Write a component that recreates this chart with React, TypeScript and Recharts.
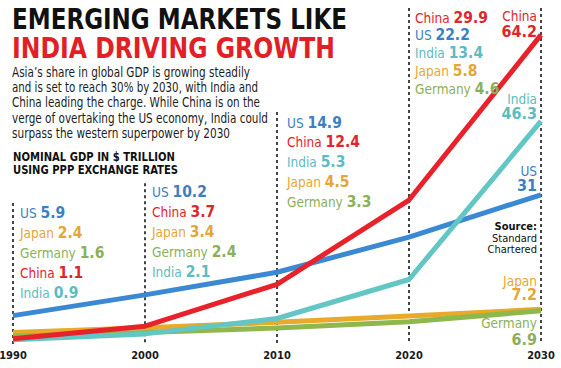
import React from 'react';
import { LineChart, Line, XAxis, YAxis, ReferenceLine } from 'recharts';

// ---------- data ----------
const years = [1990, 2000, 2010, 2020, 2030];
const us = [5.9, 10.2, 14.9, 22.2, 31];
const china = [1.1, 3.7, 12.4, 29.9, 64.2];
const india = [0.9, 2.1, 5.3, 13.4, 46.3];
const japan = [2.4, 3.4, 4.5, 5.8, 7.2];
const germany = [1.6, 2.4, 3.3, 4.6, 6.9];

const titleLines = ['EMERGING MARKETS LIKE', 'INDIA DRIVING GROWTH'];
const introLines = [
  "Asia\u2019s share in global GDP is growing steadily",
  'and is set to reach 30% by 2030, with India and',
  'China leading the charge. While China is on the',
  'verge of overtaking the US economy, India could',
  'surpass the western superpower by 2030',
];
const subtitleLines = ['NOMINAL GDP IN $ TRILLION', 'USING PPP EXCHANGE RATES'];
const sourceLines = ['Source:', 'Standard', 'Chartered'];

// ---------- styling ----------
const FONT = "'Liberation Sans Narrow', 'DejaVu Sans Condensed', 'Roboto Condensed', sans-serif";

const series = [
  { key: 'japan', name: 'Japan', values: japan, line: '#e9aa2b', label: '#e4a636' },
  { key: 'germany', name: 'Germany', values: germany, line: '#8fb84c', label: '#8cb05a' },
  { key: 'us', name: 'US', values: us, line: '#3b88d3', label: '#3c7fc2' },
  { key: 'india', name: 'India', values: india, line: '#62c6c4', label: '#5dbcc0' },
  { key: 'china', name: 'China', values: china, line: '#e8222a', label: '#df252d' },
];

const rows = years.map((year, i) => {
  const r: Record<string, number> = { year };
  series.forEach((s) => (r[s.key] = s.values[i]));
  return r;
});

// layout constants (not data): top of each dotted year guide, in axis units
const guideTops = [29.3, 33.4, 48.2, 69.8, 69.8];
const blockX = [20, 152, 287, 415];
const blockY = [212, 191, 122, 17];
const blockDy = [20.2, 20, 19.8, 17.8];
const endLabelY: Record<string, number> = { china: 16, india: 99, us: 171, japan: 281, germany: 323 };
const endValueDy: Record<string, number> = { china: 15, india: 14, us: 14, japan: 13, germany: 16 };

function fmt(v: number) {
  return String(v);
}

function YearBlock({ idx }: { idx: number }) {
  const sorted = [...series].sort((a, b) => b.values[idx] - a.values[idx]);
  return (
    <g>
      {sorted.map((s, j) => (
        <text
          key={s.key}
          x={blockX[idx]}
          y={blockY[idx] + j * blockDy[idx] + 5.5}
          fontFamily={FONT}
          fill={s.label}
        >
          <tspan fontSize={13.5}>{s.name} </tspan>
          <tspan fontSize={15.5} fontWeight="bold">{fmt(s.values[idx])}</tspan>
        </text>
      ))}
    </g>
  );
}

function EndLabels() {
  const idx = years.length - 1;
  return (
    <g>
      {series.map((s) => (
        <g key={s.key}>
          <text x={537} y={endLabelY[s.key] + 5} textAnchor="end" fontFamily={FONT} fontSize={13.5} fill={s.label}>
            {s.name}
          </text>
          <text
            x={537}
            y={endLabelY[s.key] + endValueDy[s.key] + 6}
            textAnchor="end"
            fontFamily={FONT}
            fontSize={16}
            fontWeight="bold"
            fill={s.label}
          >
            {fmt(s.values[idx])}
          </text>
        </g>
      ))}
      {sourceLines.map((t, i) => (
        <text
          key={t}
          x={537}
          y={[226, 238, 249][i] + 4}
          textAnchor="end"
          fontFamily={FONT}
          fontSize={11}
          fontWeight={i === 0 ? 'bold' : 'normal'}
          fill="#111"
        >
          {t}
        </text>
      ))}
    </g>
  );
}

function Overlay() {
  const introWidths = [238, 246, 248, 256, 218];
  const introBase = [77, 92.2, 107.4, 122.6, 137.8];
  return (
    <svg
      width={561}
      height={368}
      style={{ position: 'absolute', left: 0, top: 0, pointerEvents: 'none' }}
    >
      <text x={12} y={29} fontFamily={FONT} fontSize={29} fontWeight="bold" fill="#111"
        textLength={335} lengthAdjust="spacingAndGlyphs">{titleLines[0]}</text>
      <text x={12} y={58} fontFamily={FONT} fontSize={29} fontWeight="bold" fill="#e21f26"
        textLength={323} lengthAdjust="spacingAndGlyphs">{titleLines[1]}</text>
      {introLines.map((t, i) => (
        <text key={i} x={12} y={introBase[i]} fontFamily={FONT} fontSize={13.5} fill="#1d1d1d"
          textLength={introWidths[i]} lengthAdjust="spacingAndGlyphs">{t}</text>
      ))}
      {subtitleLines.map((t, i) => (
        <text key={i} x={13} y={[160.5, 173.5][i]} fontFamily={FONT} fontSize={12.5} fontWeight="bold" fill="#111"
          textLength={[162, 165][i]} lengthAdjust="spacingAndGlyphs">{t}</text>
      ))}
      {[0, 1, 2, 3].map((i) => (
        <YearBlock key={i} idx={i} />
      ))}
      <EndLabels />
    </svg>
  );
}

export default function App() {
  return (
    <div
      style={{
        position: 'absolute',
        left: 0,
        top: 0,
        width: 561,
        height: 368,
        background: '#fff',
        overflow: 'hidden',
      }}
    >
      <LineChart width={561} height={368} data={rows} margin={{ top: 7, right: 20, bottom: 0, left: 13 }}>
        <XAxis
          dataKey="year"
          type="number"
          domain={[1990, 2030]}
          ticks={years}
          interval={0}
          height={24}
          axisLine={false}
          tickLine={false}
          tickSize={5}
          tickMargin={2}
          tick={{ fontFamily: FONT, fontSize: 11, fontWeight: 'bold', fill: '#1a1a1a' }}
        />
        <YAxis hide domain={[0, 70]} type="number" />
        {years.map((y, i) => (
          <ReferenceLine
            key={'guide' + y}
            segment={[
              { x: y, y: guideTops[i] },
              { x: y, y: 0 },
            ]}
            stroke="#444444"
            strokeWidth={2}
            strokeDasharray="3 3"
          />
        ))}
        {series.map((s) => (
          <Line
            key={s.key}
            type="linear"
            dataKey={s.key}
            stroke={s.line}
            strokeWidth={5}
            dot={false}
            activeDot={false}
            strokeLinejoin="round"
            isAnimationActive={false}
          />
        ))}
      </LineChart>
      <Overlay />
    </div>
  );
}
